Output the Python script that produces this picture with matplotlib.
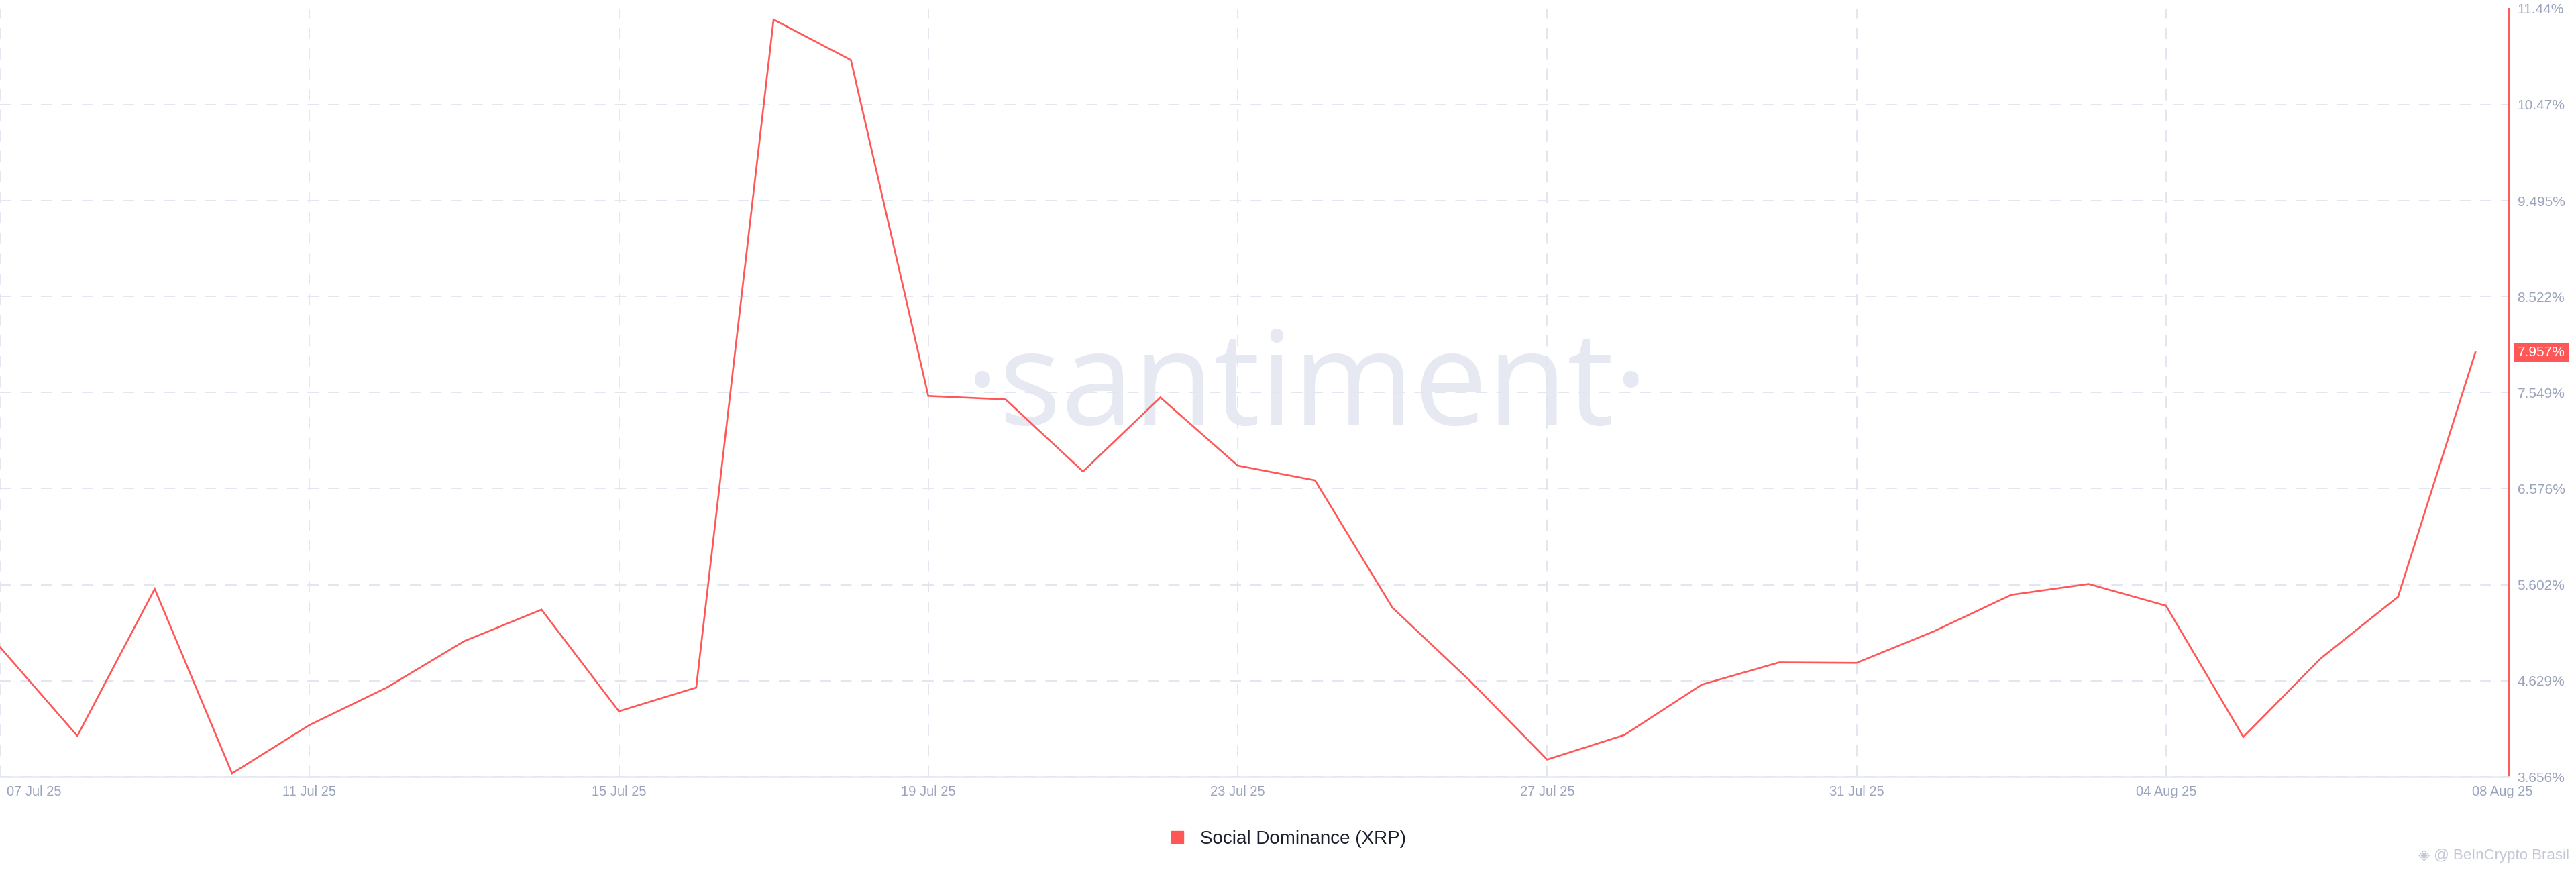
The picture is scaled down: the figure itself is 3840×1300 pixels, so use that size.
import numpy as np
import pandas as pd
import matplotlib
matplotlib.use("Agg")
import matplotlib.pyplot as plt
import matplotlib.transforms as mtransforms
from matplotlib.lines import Line2D

# daily social dominance of XRP, 07 Jul 25 .. 08 Aug 25 (values in %)
dates = pd.date_range("2025-07-07", "2025-08-08", freq="D")
dominance = [4.97, 4.07, 5.56, 3.69, 4.18, 4.56, 5.03, 5.35, 4.32, 4.56,
             11.33, 10.92, 7.515, 7.48, 6.75, 7.50, 6.81, 6.66, 5.37, 4.63,
             3.83, 4.08, 4.59, 4.815, 4.81, 5.13, 5.50, 5.61, 5.39, 4.06,
             4.855, 5.48, 7.957]
series_name = "Social Dominance (XRP)"

y_ticks = [3.656, 4.629, 5.602, 6.576, 7.549, 8.522, 9.495, 10.47, 11.44]
y_labels = ["3.656%", "4.629%", "5.602%", "6.576%", "7.549%", "8.522%",
            "9.495%", "10.47%", "11.44%"]
x_tick_dates = pd.to_datetime(["2025-07-07", "2025-07-11", "2025-07-15", "2025-07-19",
                               "2025-07-23", "2025-07-27", "2025-07-31", "2025-08-04",
                               "2025-08-08"])
x_labels = ["07 Jul 25", "11 Jul 25", "15 Jul 25", "19 Jul 25", "23 Jul 25",
            "27 Jul 25", "31 Jul 25", "04 Aug 25", "08 Aug 25"]
last_value = dominance[-1]

RED = "#ff5757"
TICK = "#9ba3bd"
GRID = "#e3e6f0"

plt.rcParams["font.family"] = ["Liberation Sans", "DejaVu Sans"]
plt.rcParams["lines.scale_dashes"] = False

W, H = 3840, 1300
fig = plt.figure(figsize=(W / 100, H / 100), dpi=100)
ax = fig.add_axes([0, 1 - 1158 / H, 3740 / W, (1158 - 13) / H])

# watermark
ax.text(0.521, 0.4585, "·santiment·", transform=ax.transAxes, ha="center", va="baseline",
        fontsize=140, color="#e6e8f2", family=["Open Sans", "DejaVu Sans"], zorder=0)

ax.plot(dates, dominance, color=RED, lw=1.9, zorder=3, solid_joinstyle="miter")

ax.set_xlim(dates[0], dates[-1] + pd.Timedelta(hours=10.4))
ax.set_ylim(y_ticks[0], y_ticks[-1])

ax.set_yticks(y_ticks)
ax.set_yticklabels(y_labels)
ax.set_xticks(x_tick_dates)
ax.set_xticklabels(x_labels)

ax.yaxis.tick_right()
ax.tick_params(axis="y", length=0, pad=9, labelsize=15, labelcolor=TICK)
ax.tick_params(axis="x", length=0, pad=9, labelsize=14.5, labelcolor=TICK)
for lab in ax.get_yticklabels():
    lab.set_ha("left")

xl = ax.get_xticklabels()
xl[0].set_ha("left")
xl[0].set_transform(xl[0].get_transform() + mtransforms.ScaledTranslation(0.1, 0, fig.dpi_scale_trans))
xl[-1].set_transform(xl[-1].get_transform() + mtransforms.ScaledTranslation(0.4, 0, fig.dpi_scale_trans))

ax.grid(True, color=GRID, lw=1.4, linestyle=(0, (12, 10)))
ax.get_xgridlines()[-1].set_visible(False)

for s in ["top", "left"]:
    ax.spines[s].set_visible(False)
ax.spines["right"].set_color(RED)
ax.spines["right"].set_linewidth(1.4)
ax.spines["bottom"].set_color("#e4e8f1")
ax.spines["bottom"].set_linewidth(1.8)

# last value badge
badge_tr = mtransforms.blended_transform_factory(ax.transAxes, ax.transData)
ax.text(1.0 + 13 / 3740, last_value, f"{last_value:.3f}%", transform=badge_tr,
        ha="left", va="center", fontsize=15, color="white", zorder=5,
        bbox=dict(boxstyle="square,pad=0.25", facecolor=RED, edgecolor="none"),
        clip_on=False)

handle = Line2D([], [], marker="s", linestyle="none", markersize=13.5,
                markerfacecolor=RED, markeredgecolor=RED)
fig.legend([handle], [series_name], loc="center", bbox_to_anchor=(0.4978, 1 - 1251 / H),
           frameon=False, fontsize=20, labelcolor="#1b1e2b", handletextpad=0.2,
           borderaxespad=0)

fig.text(3830 / W, 1 - 1276 / H, "◈ @ BeInCrypto Brasil", ha="right", va="center",
         fontsize=16, color="#c3c7d4")

fig.savefig("out.png", dpi=100, facecolor="white")
